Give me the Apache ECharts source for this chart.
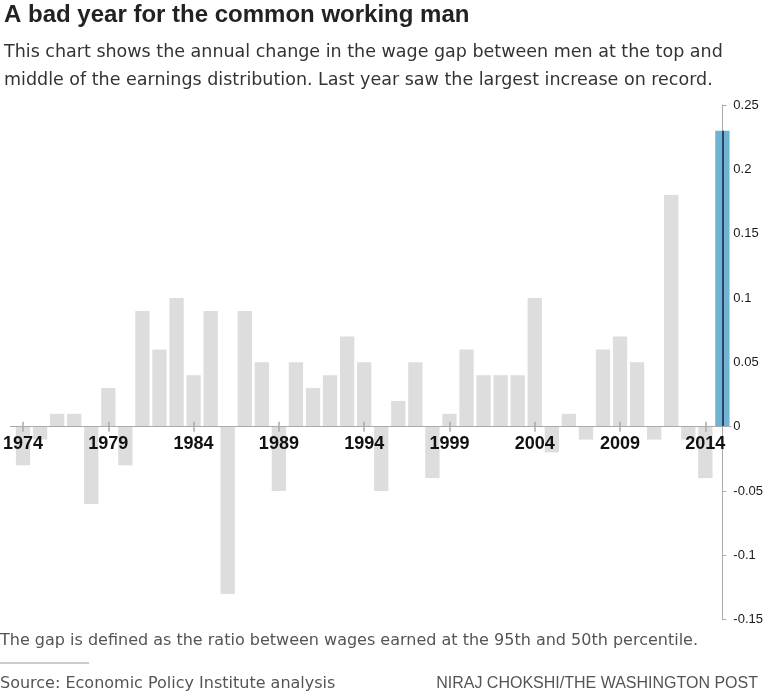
<!DOCTYPE html>
<html>
<head>
<meta charset="utf-8">
<script src="https://cdn.jsdelivr.net/npm/echarts@6/dist/echarts.min.js"></script>
<style>
  html, body { margin: 0; padding: 0; background: #fff; }
  #chart { width: 766px; height: 698px; }
</style>
</head>
<body>
<div id="chart"></div>
<script>
// ---- Data ----
var years = [1974,1975,1976,1977,1978,1979,1980,1981,1982,1983,1984,1985,1986,1987,1988,1989,1990,1991,1992,1993,1994,1995,1996,1997,1998,1999,2000,2001,2002,2003,2004,2005,2006,2007,2008,2009,2010,2011,2012,2013,2014,2015];
var gapChange = [-0.03,-0.01,0.01,0.01,-0.06,0.03,-0.03,0.09,0.06,0.10,0.04,0.09,-0.13,0.09,0.05,-0.05,0.05,0.03,0.04,0.07,0.05,-0.05,0.02,0.05,-0.04,0.01,0.06,0.04,0.04,0.04,0.10,-0.02,0.01,-0.01,0.06,0.07,0.05,-0.01,0.18,-0.01,-0.04,0.23];
var yearTicks = [1974,1979,1984,1989,1994,1999,2004,2009,2014];
var yMin = -0.15, yMax = 0.25, yStep = 0.05;

var titleText = 'A bad year for the common working man';
var subtitleLines = [
  'This chart shows the annual change in the wage gap between men at the top and',
  'middle of the earnings distribution. Last year saw the largest increase on record.'
];
var noteText = 'The gap is defined as the ratio between wages earned at the 95th and 50th percentile.';
var sourceText = 'Source: Economic Policy Institute analysis';
var creditText = 'NIRAJ CHOKSHI/THE WASHINGTON POST';

// ---- Layout ----
var gridLeft = 8, gridRightEdge = 731, gridTop = 105, gridBottomEdge = 619.7;
var xMin = years[0] - 0.75, xMax = years[years.length - 1] + 0.5;
var pxPerYear = (gridRightEdge - gridLeft) / (xMax - xMin);
var gridH = gridBottomEdge - gridTop;
var zeroPx = gridTop + (yMax - 0) / (yMax - yMin) * gridH;
var xAxisOffset = -(gridBottomEdge - zeroPx);
var lastIdx = years.length - 1;

var seriesData = years.map(function (y, i) { return [y, gapChange[i]]; });

var chart = echarts.init(document.getElementById('chart'), null, { renderer: 'canvas' });
var font = '"Liberation Sans", Arial, sans-serif';
var bodyFont = '"DejaVu Sans", "Liberation Sans", sans-serif';

var option = {
  animation: false,
  grid: {
    left: gridLeft,
    right: 766 - gridRightEdge,
    top: gridTop,
    bottom: 698 - gridBottomEdge,
    containLabel: false
  },
  xAxis: [
    {
      type: 'value',
      min: xMin,
      max: xMax,
      position: 'bottom',
      offset: xAxisOffset,
      z: 6,
      splitLine: { show: false },
      axisLine: { show: true, onZero: false, lineStyle: { color: '#aaaaaa', width: 1 } },
      axisTick: { show: true, length: 5, customValues: yearTicks, lineStyle: { color: '#aaaaaa', width: 1.5 } },
      axisLabel: {
        show: true,
        customValues: yearTicks,
        margin: 8,
        color: '#111',
        fontFamily: font,
        fontWeight: 'bold',
        fontSize: 18,
        formatter: function (v) { return String(Math.round(v)); }
      }
    },
    {
      type: 'value',
      min: xMin,
      max: xMax,
      position: 'bottom',
      offset: xAxisOffset,
      z: 6,
      splitLine: { show: false },
      axisLine: { show: false, onZero: false },
      axisTick: { show: true, inside: true, length: 5, customValues: yearTicks, lineStyle: { color: '#aaaaaa', width: 1.5 } },
      axisLabel: { show: false }
    }
  ],
  yAxis: {
    type: 'value',
    position: 'right',
    min: yMin,
    max: yMax,
    interval: yStep,
    offset: -0.5 * pxPerYear,
    splitLine: { show: false },
    axisLine: { show: true, onZero: false, lineStyle: { color: '#aaaaaa', width: 1 } },
    axisTick: { show: true, length: 4, lineStyle: { color: '#aaaaaa', width: 1 } },
    axisLabel: {
      margin: 11,
      color: '#1a1a1a',
      fontFamily: font,
      fontSize: 13,
      formatter: function (v) { return String(parseFloat(v.toFixed(2))); }
    },
    z: 3
  },
  series: [
    {
      type: 'bar',
      xAxisIndex: 0,
      data: seriesData,
      barWidth: 14.3,
      clip: false,
      z: 2,
      itemStyle: {
        color: function (p) { return p.dataIndex === lastIdx ? '#6fb3d2' : '#dcdddc'; }
      },
      markLine: {
        silent: true,
        symbol: ['none', 'none'],
        label: { show: false },
        lineStyle: { color: '#0c2d5e', width: 1.6, type: 'solid' },
        z: 5,
        data: [[
          { coord: [years[lastIdx], 0] },
          { coord: [years[lastIdx], gapChange[lastIdx]] }
        ]]
      }
    }
  ],
  graphic: [
    { type: 'text', x: 4, y: 15.5, style: { text: titleText, font: 'bold 24px ' + font, fill: '#222', verticalAlign: 'middle' } },
    { type: 'text', x: 4, y: 52.2, style: { text: subtitleLines[0], font: '17.5px ' + bodyFont, fill: '#333', verticalAlign: 'middle' } },
    { type: 'text', x: 4, y: 80.5, style: { text: subtitleLines[1], font: '17.5px ' + bodyFont, fill: '#333', verticalAlign: 'middle' } },
    { type: 'text', x: 0, y: 640.8, style: { text: noteText, font: '16px ' + bodyFont, fill: '#555', verticalAlign: 'middle' } },
    { type: 'line', shape: { x1: 0, y1: 663, x2: 89, y2: 663 }, style: { stroke: '#cccccc', lineWidth: 2 } },
    { type: 'text', x: 0, y: 683.7, style: { text: sourceText, font: '16px ' + bodyFont, fill: '#555', verticalAlign: 'middle' } },
    { type: 'text', x: 758, y: 683.7, style: { text: creditText, font: '16px ' + font, fill: '#555', align: 'right', verticalAlign: 'middle' } }
  ]
};
chart.setOption(option);
</script>
</body>
</html>
